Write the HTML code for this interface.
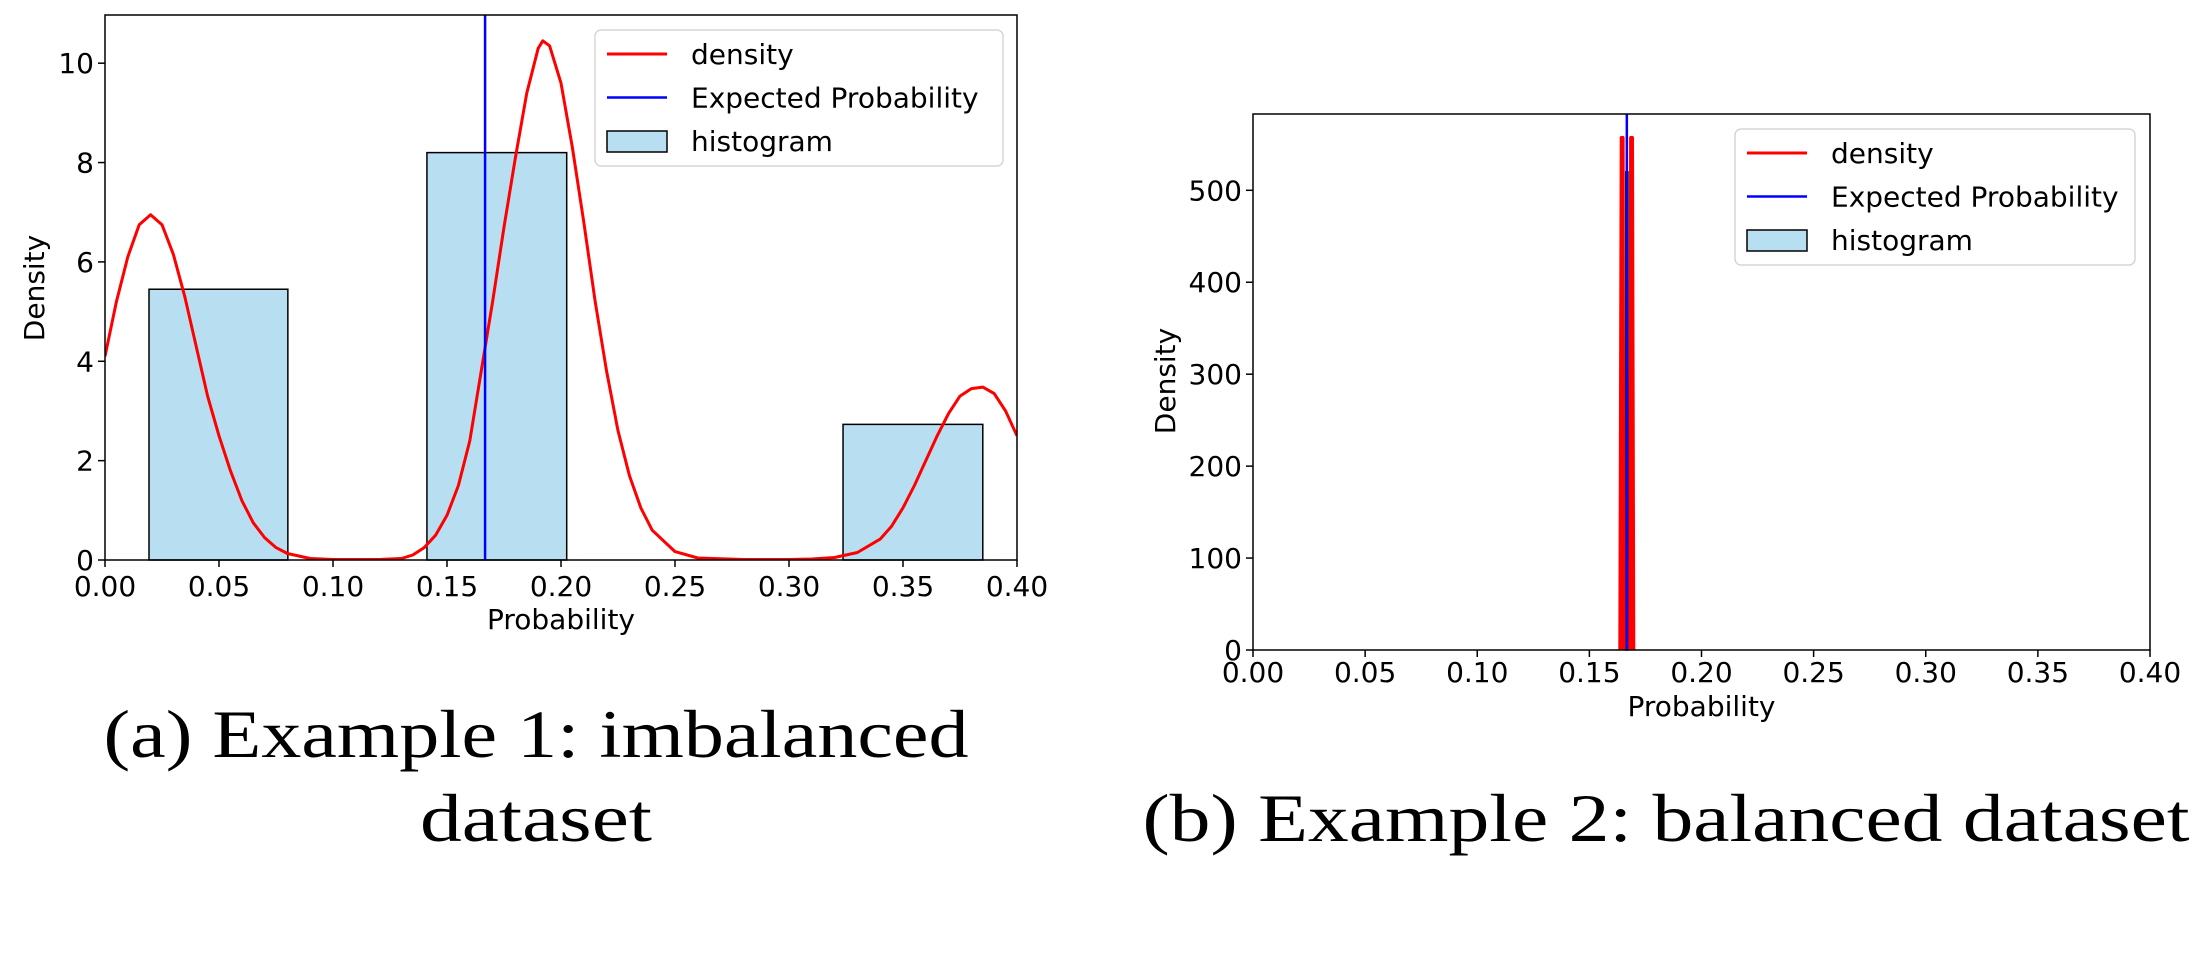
<!DOCTYPE html>
<html><head><meta charset="utf-8"><style>
html,body{margin:0;padding:0;background:#fff;}
svg text{font-family:"DejaVu Sans","Liberation Sans",sans-serif;}
.cap{font-family:"Liberation Serif",serif;}
</style></head><body>
<svg id="fig" width="2212" height="948" viewBox="0 0 2212 948" xmlns="http://www.w3.org/2000/svg">
<g id="pa"></g>
<g id="pb"></g>
<text class="cap" x="536" y="757" font-size="68" text-anchor="middle" textLength="865" lengthAdjust="spacingAndGlyphs">(a) Example 1: imbalanced</text>
<text class="cap" x="536" y="841" font-size="68" text-anchor="middle" textLength="232" lengthAdjust="spacingAndGlyphs">dataset</text>
<text class="cap" x="1666" y="841" font-size="68" text-anchor="middle" textLength="1047" lengthAdjust="spacingAndGlyphs">(b) Example 2: balanced dataset</text>
</svg>
<script>
// Chart A data
const aDensX = [0,0.005,0.01,0.015,0.02,0.025,0.03,0.035,0.04,0.045,0.05,0.055,0.06,0.065,0.07,0.075,0.08,0.09,0.1,0.11,0.12,0.13,0.135,0.14,0.145,0.15,0.155,0.16,0.165,0.17,0.175,0.18,0.185,0.19,0.192,0.195,0.2,0.205,0.21,0.215,0.22,0.225,0.23,0.235,0.24,0.25,0.26,0.28,0.3,0.31,0.32,0.33,0.34,0.345,0.35,0.355,0.36,0.365,0.37,0.375,0.38,0.385,0.39,0.395,0.4];
const aDensY = [4.1,5.2,6.1,6.75,6.95,6.75,6.15,5.3,4.3,3.3,2.5,1.8,1.2,0.75,0.45,0.25,0.13,0.03,0.01,0.01,0.01,0.03,0.1,0.25,0.5,0.9,1.5,2.4,3.8,5.2,6.7,8.1,9.4,10.3,10.45,10.35,9.6,8.3,6.8,5.2,3.8,2.6,1.7,1.05,0.6,0.17,0.04,0.01,0.01,0.02,0.05,0.15,0.42,0.68,1.05,1.5,2.0,2.5,2.95,3.3,3.45,3.48,3.35,3.0,2.5];
const aBinStart = [0.0193,0.1412,0.3237];
const aBinEnd = [0.0802,0.2025,0.385];
const aBinH = [5.45,8.2,2.73];
const aExpected = 0.1667;
const aXTicks = ["0.00","0.05","0.10","0.15","0.20","0.25","0.30","0.35","0.40"];
const aYTicks = [0,2,4,6,8,10];
// Chart B data
const bDensX = [0.1638,0.1644,0.1648,0.1652,0.1667,0.1682,0.1686,0.169,0.1696];
const bDensY = [0,557,557,0,0,0,557,557,0];
const bBinStart = [0.1662];
const bBinEnd = [0.1672];
const bBinH = [520];
const bExpected = 0.1667;
const bXTicks = ["0.00","0.05","0.10","0.15","0.20","0.25","0.30","0.35","0.40"];
const bYTicks = [0,100,200,300,400,500];

const NS="http://www.w3.org/2000/svg";
function mk(p,tag,at,txt){const e=document.createElementNS(NS,tag);for(const k in at)e.setAttribute(k,at[k]);if(txt!==undefined)e.textContent=txt;p.appendChild(e);return e;}

function draw(g,cfg){
  const {L,R,T,B,xmax,ymax}=cfg;
  const sx=v=>L+(v/xmax)*(R-L), sy=v=>B-(v/ymax)*(B-T);
  for(let i=0;i<cfg.bs.length;i++){
    const r=mk(g,'rect',{x:sx(cfg.bs[i]),y:sy(cfg.bh[i]),width:Math.max(1,sx(cfg.be[i])-sx(cfg.bs[i])),height:B-sy(cfg.bh[i]),fill:'#b7dff1',stroke:'#000','stroke-width':1.5});
    
    
  }
  const n=Math.min(cfg.dx.length,cfg.dy.length);
  let d='';
  for(let i=0;i<n;i++){d+=(i?'L':'M')+sx(cfg.dx[i]).toFixed(1)+','+sy(Math.min(cfg.dy[i],ymax)).toFixed(1);}
  const cp=mk(g,'clipPath',{id:cfg.id+'clip'});mk(cp,'rect',{x:L,y:T,width:R-L,height:B-T});
  const dl=mk(g,'path',{d:d,fill:'none',stroke:'#ff0000','stroke-width':cfg.dw,'stroke-linejoin':'round','clip-path':'url(#'+cfg.id+'clip)'});
  
  
  const el=mk(g,'line',{x1:sx(cfg.exp),x2:sx(cfg.exp),y1:T,y2:B,stroke:'#0000ff','stroke-width':2.5});
  
  
  const fr=mk(g,'rect',{x:L,y:T,width:R-L,height:B-T,fill:'none',stroke:'#000','stroke-width':1.5});
  
  
  cfg.xt.forEach(t=>{const x=sx(parseFloat(t));
    mk(g,'line',{x1:x,x2:x,y1:B,y2:B+7,stroke:'#000','stroke-width':1.5});
    const tx=mk(g,'text',{x:x,y:cfg.xty,'font-size':28,'text-anchor':'middle'},t);
    
    
  });
  cfg.yt.forEach(t=>{const y=sy(t);
    mk(g,'line',{x1:L-7,x2:L,y1:y,y2:y,stroke:'#000','stroke-width':1.5});
    const tx=mk(g,'text',{x:L-11,y:y+10,'font-size':28,'text-anchor':'end'},String(t));
    
    
  });
  const xl=mk(g,'text',{x:(L+R)/2,y:cfg.xly,'font-size':28,'text-anchor':'middle'},'Probability');
  
  
  const yl=mk(g,'text',{x:0,y:0,'font-size':28,'text-anchor':'middle',transform:'translate('+cfg.ylx+','+cfg.yly+') rotate(-90)'},'Density');
  
  
  const lg=mk(g,'g',{});
  
  
  const lx=cfg.lx, ly=cfg.ly;
  mk(lg,'rect',{x:lx,y:ly,width:cfg.lw,height:136,rx:6,fill:'#fff','fill-opacity':0.85,stroke:'#d6d6d6','stroke-width':1.5});
  const rows=[['density','line','#ff0000',3],['Expected Probability','line','#0000ff',2.5],['histogram','rect']];
  rows.forEach((r,i)=>{const cy=ly+24+i*43.5;
    if(r[1]==='line')mk(lg,'line',{x1:lx+12,x2:lx+72,y1:cy,y2:cy,stroke:r[2],'stroke-width':r[3]});
    else mk(lg,'rect',{x:lx+12,y:cy-10,width:60,height:21,fill:'#b7dff1',stroke:'#000','stroke-width':1.5});
    const t=mk(lg,'text',{x:lx+96,y:cy+10,'font-size':28},r[0]);
    
    
  });
}
draw(document.getElementById('pa'),{id:'a',L:105,R:1017,T:15,B:560,xmax:0.4,ymax:10.97,dx:aDensX,dy:aDensY,dw:3,bs:aBinStart,be:aBinEnd,bh:aBinH,exp:aExpected,xt:aXTicks,yt:aYTicks,xty:596,xly:629,ylx:44,yly:288,lx:595,ly:30,lw:408});
draw(document.getElementById('pb'),{id:'b',L:1253,R:2150,T:114,B:650,xmax:0.4,ymax:583,dx:bDensX,dy:bDensY,dw:4,bs:bBinStart,be:bBinEnd,bh:bBinH,exp:bExpected,xt:bXTicks,yt:bYTicks,xty:682,xly:716,ylx:1175,yly:381,lx:1735,ly:129,lw:400});
</script>
</body></html>
